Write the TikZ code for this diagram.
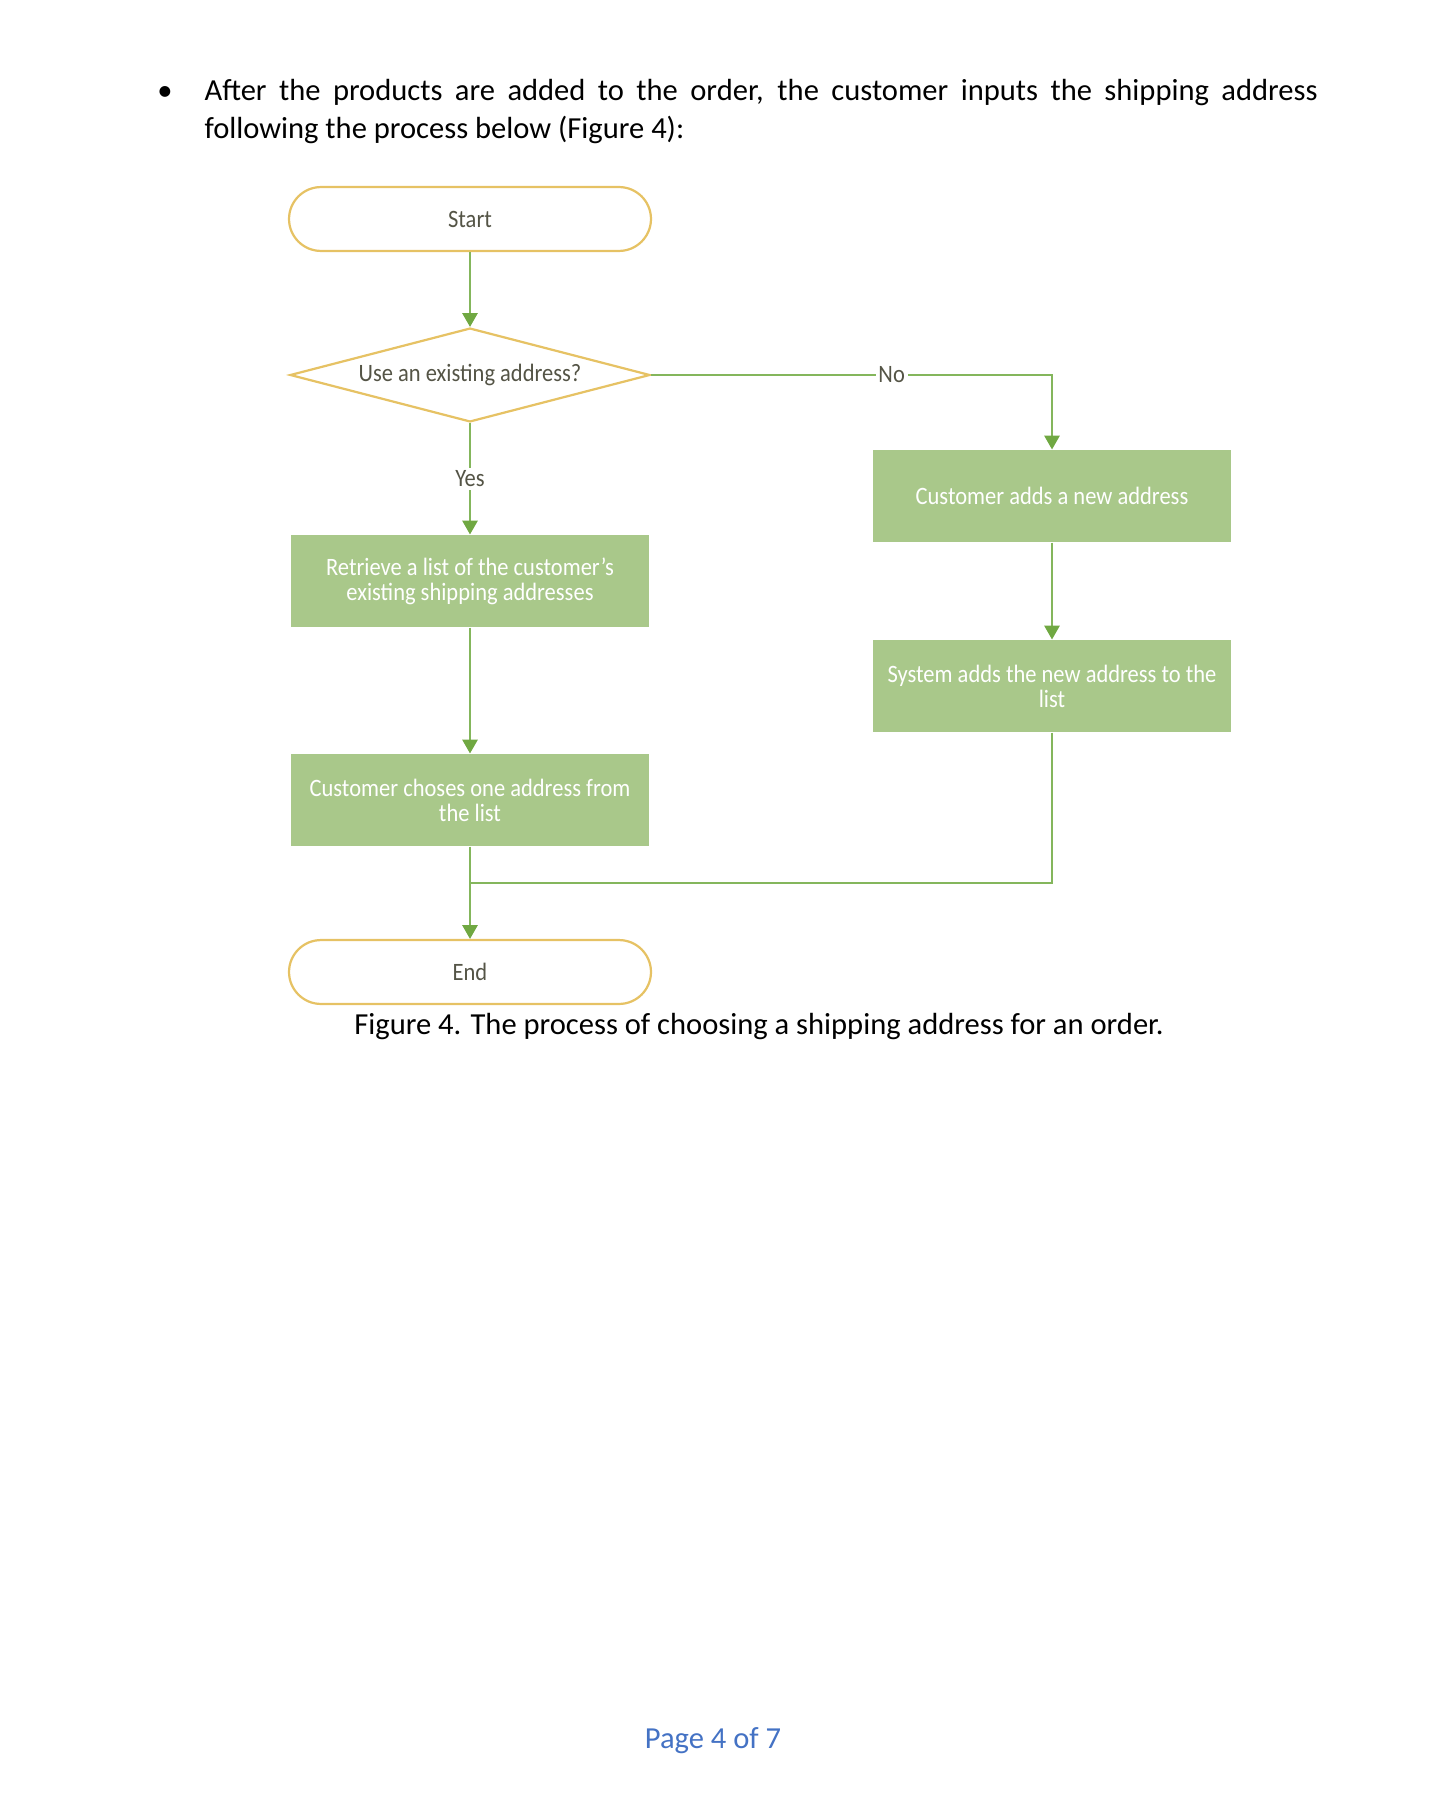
\documentclass[tikz,border=0pt]{standalone}
\usepackage{fontspec}
\setmainfont{Carlito}
\newfontfamily\chartfont{Carlito}[FakeStretch=0.9]
\usepackage{xcolor}
\definecolor{stepgreen}{RGB}{169, 200, 138}
\definecolor{linegreen}{RGB}{132, 182, 92}
\definecolor{tipgreen}{RGB}{112, 168, 66}
\definecolor{termgold}{RGB}{230, 194, 100}
\definecolor{labelgray}{RGB}{84, 84, 70}
\definecolor{footblue}{RGB}{68, 114, 196}
\usepackage{tikz}
\usetikzlibrary{arrows.meta, shapes.geometric}

\tikzset{
  terminal/.style={draw=termgold, line width=0.8pt, rounded corners=11.5pt,
    minimum width=130.3pt, minimum height=23pt, text=labelgray,
    font=\chartfont\fontsize{9}{10}\selectfont},
  decision/.style={diamond, aspect=3.8, draw=termgold, line width=0.8pt,
    minimum width=129.6pt, minimum height=33.8pt, inner sep=0pt, text=labelgray,
    font=\chartfont\fontsize{9}{10}\selectfont},
  process/.style={rectangle, fill=stepgreen, minimum width=128.9pt,
    minimum height=33.1pt, align=center, text=white,
    font=\chartfont\fontsize{9}{9}\selectfont},
  wire/.style={draw=linegreen, line width=0.75pt},
  flow/.style={wire, -{Triangle[width=5.5pt, length=5pt, color=tipgreen]}},
  tag/.style={fill=white, inner sep=1pt, text=labelgray,
    font=\chartfont\fontsize{9}{10}\selectfont}
}

\begin{document}
\begin{tikzpicture}[x=0.36pt, y=-0.36pt]
    \useasboundingbox (0,0) rectangle (1443,1805);

    % text above and below the chart
    \node[anchor=base] (bullet) at (165,101) {\fontsize{11}{13.4}\selectfont\textbullet};
    \node[anchor=base west, text width=400.7pt, align=justify, inner sep=0pt,
          font=\fontsize{11}{13.4}\selectfont] (intro) at (204,101)
        {After the products are added to the order, the customer inputs the shipping address\linebreak
         following the process below (Figure 4):};
    \node[anchor=base, font=\fontsize{11}{13.4}\selectfont] (caption) at (759,1034)
        {Figure 4. The process of choosing a shipping address for an order.};
    \node[anchor=base, text=footblue, font=\fontsize{11}{13.4}\selectfont] (footer) at (713,1748)
        {Page 4 of 7};

    % chart
    \node[terminal] (start) at (470,219) {Start};
    \node[decision] (choice) at (470,375) {Use an existing address?};
    \node[process] (retrieve) at (470,581) {Retrieve a list of the customer’s\\existing shipping addresses};
    \node[process] (choose) at (470,800) {Customer choses one address from\\the list};
    \node[terminal] (stop) at (470,972) {End};
    \node[process] (newaddr) at (1052,496) {Customer adds a new address};
    \node[process] (addlist) at (1052,686) {System adds the new address to the\\list};
    \coordinate (join) at (470,883);

    \draw[flow] (start) -- (choice);
    \draw[flow] (choice) -- node[tag] {Yes} (retrieve);
    \draw[flow] (choice.east) -| node[tag, pos=0.3] {No} (newaddr);
    \draw[flow] (retrieve) -- (choose);
    \draw[flow] (newaddr) -- (addlist);
    \draw[wire] (addlist) |- (join);
    \draw[flow] (choose) -- (stop);
\end{tikzpicture}
\end{document}
